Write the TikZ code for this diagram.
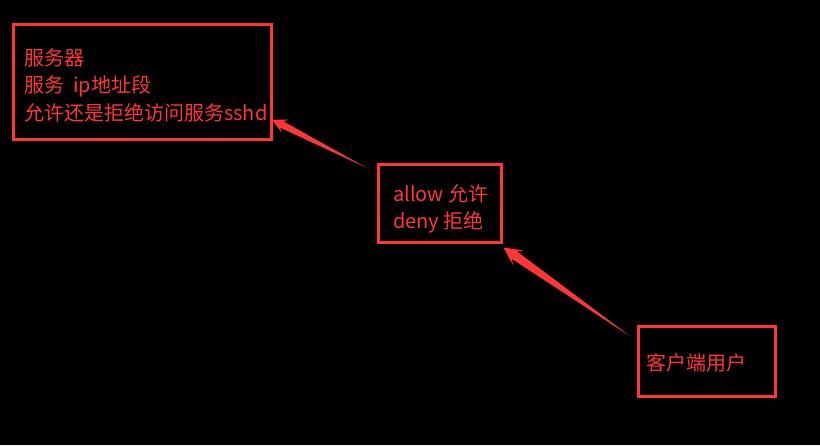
\documentclass[tikz,border=0pt]{standalone}
\usepackage{fontspec}
\setmainfont{Noto Sans CJK SC}
\usetikzlibrary{calc}
\definecolor{boxred}{HTML}{FF3636}
\tikzset{
  box/.style={draw=boxred, line width=3pt, inner sep=0pt},
  txt/.style={text=boxred, align=left, anchor=west, inner sep=0pt,
    font=\fontsize{20}{27.5}\selectfont},
}
\newcommand{\taparrow}[6]{% tail, tip, head length, shaft length, head half width, shaft half width
  \path (#2) coordinate (tipx) ($(#2)!#3!(#1)$) coordinate (hbx) ($(#2)!#4!(#1)$) coordinate (sbx);
  \fill[boxred] (#1) -- ($(sbx)!#6!90:(tipx)$) -- ($(hbx)!#5!90:(tipx)$) -- (tipx)
    -- ($(hbx)!#5!-90:(tipx)$) -- ($(sbx)!#6!-90:(tipx)$) -- cycle;}
\begin{document}
\begin{tikzpicture}[x=1pt,y=-1pt]
\useasboundingbox (0,0) rectangle (820,445);
\fill[black] (0,0) rectangle (820,445);
\node[box, minimum width=258pt, minimum height=115pt] (s) at (142.5,82) {};
\node[txt] (st) at (24,85)
  {\mbox{服务器}\\\mbox{服务\ \ ip地址段}\\\mbox{允许还是拒绝访问服务sshd}};
\node[box, minimum width=123pt, minimum height=78pt] (a) at (440,203.5) {};
\node[txt] (at) at (393,209) {\mbox{allow 允许}\\\mbox{deny 拒绝}};
\node[box, minimum width=137pt, minimum height=70pt] (c) at (707,361.5) {};
\node[txt] (ct) at (646,362.5) {\mbox{客户端用户}};
\coordinate (t1) at ($(a.north west)+(-10,5)$);
\coordinate (p1) at ($(s.south east)+(-1,-21.5)$);
\coordinate (t2) at ($(c.north west)+(-6.5,11.5)$);
\coordinate (p2) at ($(a.south east)+(0.5,3.5)$);
\taparrow{t1}{p1}{15pt}{11pt}{7.5pt}{3.5pt}
\taparrow{t2}{p2}{18pt}{13.5pt}{9pt}{4.5pt}
\end{tikzpicture}
\end{document}
